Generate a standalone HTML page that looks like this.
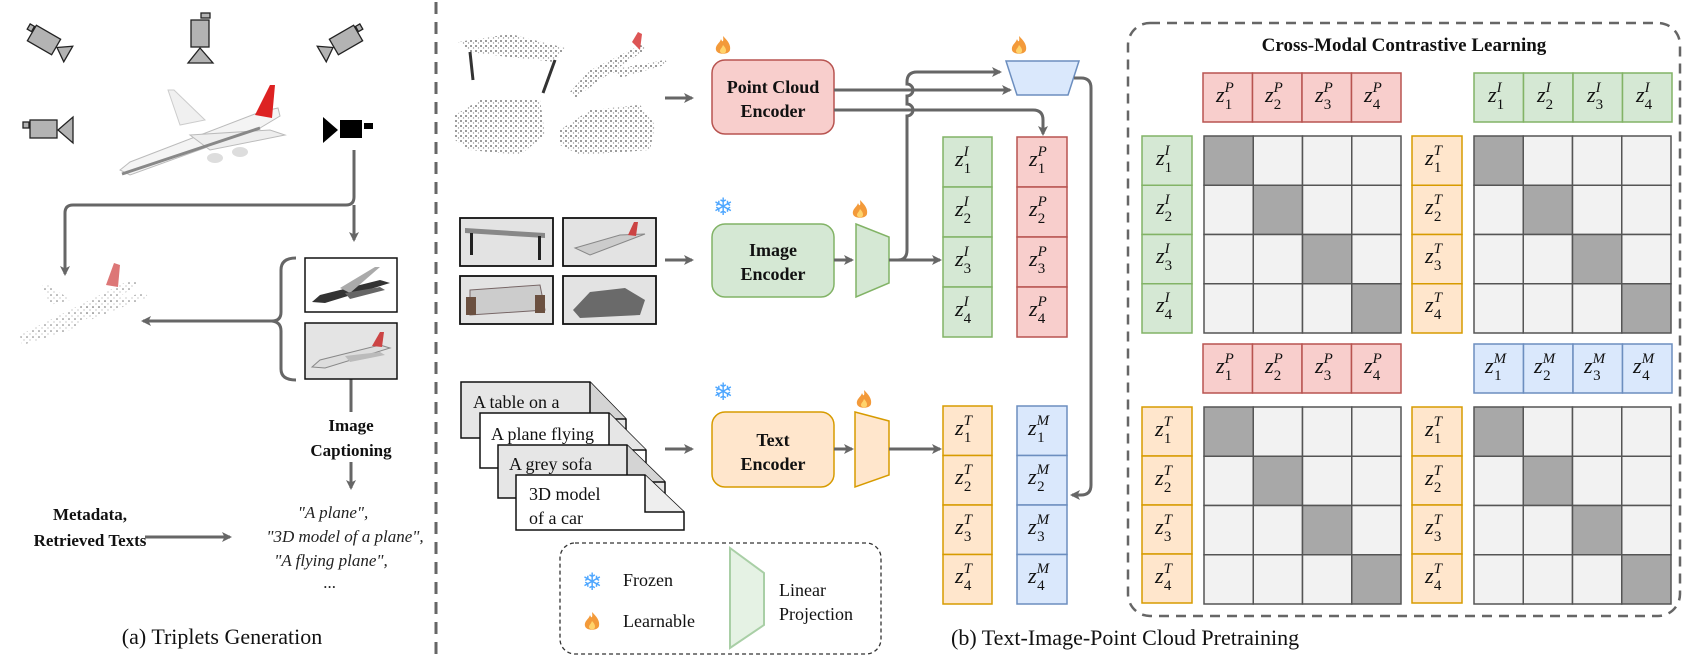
<!DOCTYPE html>
<html><head><meta charset="utf-8"><style>
html,body{margin:0;padding:0;background:#fff;}
svg{display:block;}
.s{font-family:"Liberation Serif",serif;}
.z{font-family:"Liberation Serif",serif;font-style:italic;font-size:22px;fill:#111;}
.b{font-family:"Liberation Serif",serif;font-weight:bold;fill:#111;}
</style></head><body>
<svg width="1689" height="661" viewBox="0 0 1689 661" xmlns="http://www.w3.org/2000/svg">
<defs>
<marker id="ah" markerWidth="10" markerHeight="10" refX="8" refY="5" orient="auto" markerUnits="userSpaceOnUse">
<path d="M0,0 L10,5 L0,10 L2.5,5 z" fill="#666"/></marker>
<pattern id="dots" width="5" height="5" patternUnits="userSpaceOnUse">
<circle cx="1" cy="1" r="0.9" fill="#555"/><circle cx="3.5" cy="3" r="0.7" fill="#999"/></pattern>
<pattern id="dots2" width="6" height="6" patternUnits="userSpaceOnUse">
<circle cx="1" cy="2" r="0.8" fill="#777"/><circle cx="4" cy="5" r="0.6" fill="#aaa"/></pattern>
<g id="flame"><path d="M0,-10 C5,-5 8,-1 7,4 C6,9 -6,9 -7,4 C-8,-1 -3,-3 -2,-7 C-1,-4 1,-3 0,-10z" fill="#f39a3a"/><path d="M0,-1 C3,2 4,5 2,7 C0,8 -3,7 -3,5 C-3,3 -1,2 0,-1z" fill="#ffd36b"/></g>
</defs>

<!-- ============ (a) left panel ============ -->
<!-- cameras -->
<g fill="#b3b3b3" stroke="#222" stroke-width="1.3">
 <g transform="translate(44,40) rotate(30)"><rect x="-14" y="-9" width="28" height="18"/><rect x="-20" y="-7" width="5" height="6"/><polygon points="15,0 28,-9 28,9"/></g>
 <rect x="201" y="13" width="9" height="5"/><rect x="191" y="20" width="18" height="27"/><polygon points="200,48 188,63 213,63"/>
 <g transform="translate(346,40) rotate(-30)"><rect x="-14" y="-9" width="28" height="18"/><rect x="15" y="-7" width="5" height="6"/><polygon points="-15,0 -28,-9 -28,9"/></g>
 <rect x="23" y="122" width="6" height="6"/><rect x="30" y="120" width="27" height="18"/><polygon points="58,130 73,117 73,143"/>
</g>
<g fill="#000"><polygon points="323,117 323,143 338,130"/><rect x="340" y="120" width="22" height="18"/><rect x="364" y="123" width="9" height="6"/></g>
<!-- airplane -->
<g transform="translate(200,130)">
 <polygon points="-80,40 -70,32 60,-18 78,-22 80,-14 60,-2 -70,45" fill="#f4f4f4" stroke="#bbb" stroke-width="1"/>
 <polygon points="-10,5 70,0 85,5 10,20" fill="#eee" stroke="#bbb"/>
 <polygon points="-20,-5 -32,-40 -26,-40 5,-10" fill="#f0f0f0" stroke="#ccc"/>
 <polygon points="55,-15 70,-45 75,-45 72,-12" fill="#d22"/>
 <ellipse cx="15" cy="28" rx="8" ry="5" fill="#ddd"/><ellipse cx="40" cy="22" rx="8" ry="5" fill="#ddd"/>
 <path d="M-78,44 L60,-2" stroke="#888" stroke-width="3"/>
</g>
<!-- connectors -->
<g stroke="#666" stroke-width="3" fill="none">
 <path d="M354,150 V197 Q354,205 346,205 H73 Q65,205 65,213 V274" marker-end="url(#ah)"/>
 <path d="M354,205 V240" marker-end="url(#ah)"/>
 <path d="M296,258 Q281,258 281,270 V312 Q281,321 272,321 Q281,322 281,331 V369 Q281,380 296,380"/>
 <path d="M272,321 H143" marker-end="url(#ah)"/>
 <path d="M351,379 V412"/>
 <path d="M351,462 V488" marker-end="url(#ah)"/>
 <path d="M145,537 H230" marker-end="url(#ah)"/>
</g>
<!-- point cloud plane -->
<g transform="translate(80,305)">
 <polygon points="-60,30 -40,20 50,-25 60,-22 -10,25 -58,40" fill="url(#dots2)"/>
 <polygon points="0,0 65,-12 68,-8 10,15" fill="url(#dots2)"/>
 <polygon points="-30,0 -38,-20 -30,-20 -10,-5" fill="url(#dots2)"/>
 <polygon points="26,-20 34,-42 40,-40 38,-18" fill="#d77"/>
</g>
<!-- rendered images -->
<rect x="305" y="258" width="92" height="54" fill="#fff" stroke="#111" stroke-width="1.5"/>
<g transform="translate(350,285)"><polygon points="-38,17 -30,10 30,-5 40,-2 -25,18" fill="#333"/><polygon points="-10,3 25,-18 30,-18 0,8" fill="#aaa"/><polygon points="-5,8 30,2 35,5 0,14" fill="#666"/></g>
<rect x="305" y="323" width="92" height="56" fill="#e4e4e4" stroke="#111" stroke-width="1.5"/>
<g transform="translate(350,350)"><polygon points="-38,17 -30,10 30,-5 40,-2 -25,18" fill="#ddd" stroke="#888"/><polygon points="22,-4 30,-18 34,-18 32,-3" fill="#c44"/><polygon points="-5,6 30,2 35,5 0,12" fill="#bbb"/></g>
<!-- texts -->
<text class="b" font-size="17" x="351" y="431" text-anchor="middle">Image</text>
<text class="b" font-size="17" x="351" y="456" text-anchor="middle">Captioning</text>
<text class="b" font-size="17" x="90" y="520" text-anchor="middle">Metadata,</text>
<text class="b" font-size="17" x="90" y="546" text-anchor="middle">Retrieved Texts</text>
<g class="s" font-style="italic" font-size="17" fill="#222" text-anchor="middle">
 <text x="333" y="518">"A plane",</text>
 <text x="345" y="542">"3D model of a plane",</text>
 <text x="331" y="566">"A flying plane",</text>
 <text x="330" y="588">...</text>
</g>
<text class="s" font-size="22" x="222" y="644" text-anchor="middle" fill="#111">(a) Triplets Generation</text>

<!-- separator -->
<line x1="436" y1="2" x2="436" y2="661" stroke="#666" stroke-width="3" stroke-dasharray="12 8"/>

<!-- ============ (b) ============ -->
<!-- point clouds -->
<g>
 <polygon points="458,42 510,34 565,48 555,62 500,56 470,52" fill="url(#dots)"/>
 <line x1="470" y1="52" x2="473" y2="80" stroke="#333" stroke-width="3"/><line x1="555" y1="60" x2="543" y2="93" stroke="#333" stroke-width="3"/>
 <polygon points="570,92 590,70 640,45 648,48 600,80 575,98" fill="url(#dots)"/>
 <polygon points="610,70 665,60 668,64 620,78" fill="url(#dots)"/>
 <polygon points="632,42 638,32 642,34 640,50" fill="#d55"/>
 <polygon points="455,115 480,100 540,100 545,135 520,155 470,150 455,140" fill="url(#dots)"/>
 <polygon points="560,130 590,110 640,105 655,125 650,150 580,155 560,145" fill="url(#dots)"/>
</g>
<!-- image thumbnails -->
<g stroke="#111" stroke-width="1.8" fill="#e3e3e3">
 <rect x="460" y="218" width="93" height="48"/><rect x="563" y="218" width="93" height="48"/>
 <rect x="460" y="276" width="93" height="48"/><rect x="563" y="276" width="93" height="48"/>
</g>
<polygon points="465,228 545,233 545,238 465,233" fill="#888"/><rect x="470" y="233" width="3" height="22" fill="#222"/><rect x="538" y="236" width="3" height="24" fill="#222"/>
<polygon points="575,248 620,235 645,234 590,255" fill="#ccc" stroke="#888"/><polygon points="628,235 634,222 638,222 636,236" fill="#c44"/>
<polygon points="470,290 540,285 545,310 470,315" fill="#ccc" stroke="#766"/><rect x="466" y="297" width="10" height="18" fill="#6b5040"/><rect x="535" y="295" width="10" height="18" fill="#6b5040"/>
<polygon points="573,310 590,292 625,288 645,300 640,315 580,318" fill="#6a6a6a"/>
<!-- text docs -->
<g stroke="#111" stroke-width="1.5">
 <path d="M461,382 H590 L626,419 V438 H461 Z" fill="#e6e6e6"/><path d="M590,382 V419 H626" fill="#d4d4d4"/>
 <path d="M480,413 H609 L646,450 V468 H480 Z" fill="#fff"/><path d="M609,413 V450 H646" fill="#e6e6e6"/>
 <path d="M498,445 H627 L665,482 V498 H498 Z" fill="#e6e6e6"/><path d="M627,445 V482 H665" fill="#d4d4d4"/>
 <path d="M516,475 H645 L684,512 V530 H516 Z" fill="#fff"/><path d="M645,475 V512 H684" fill="#eee"/>
</g>
<g class="s" font-size="18" fill="#111">
 <text x="473" y="408">A table on a</text>
 <text x="491" y="440">A plane flying</text>
 <text x="509" y="470">A grey sofa</text>
 <text x="529" y="500">3D model</text>
 <text x="529" y="524">of a car</text>
</g>
<!-- encoders -->
<rect x="712" y="60" width="122" height="74" rx="13" fill="#f8cecc" stroke="#b85450" stroke-width="1.5"/>
<text class="b" font-size="18" x="773" y="93" text-anchor="middle">Point Cloud</text>
<text class="b" font-size="18" x="773" y="117" text-anchor="middle">Encoder</text>
<rect x="712" y="224" width="122" height="73" rx="13" fill="#d5e8d4" stroke="#82b366" stroke-width="1.5"/>
<text class="b" font-size="18" x="773" y="256" text-anchor="middle">Image</text>
<text class="b" font-size="18" x="773" y="280" text-anchor="middle">Encoder</text>
<rect x="712" y="412" width="122" height="75" rx="13" fill="#ffe6cc" stroke="#d79b00" stroke-width="1.5"/>
<text class="b" font-size="18" x="773" y="446" text-anchor="middle">Text</text>
<text class="b" font-size="18" x="773" y="470" text-anchor="middle">Encoder</text>
<!-- trapezoids -->
<polygon points="856,224 889,237 889,283 856,297" fill="#d5e8d4" stroke="#82b366" stroke-width="1.5"/>
<polygon points="855,412 889,421 889,475 855,487" fill="#ffe6cc" stroke="#d79b00" stroke-width="1.5"/>
<polygon points="1006,61 1079,61 1068,95 1017,95" fill="#dae8fc" stroke="#6c8ebf" stroke-width="1.5"/>
<!-- icons -->
<use href="#flame" x="723" y="46"/><use href="#flame" x="860" y="210"/><use href="#flame" x="864" y="400"/><use href="#flame" x="1019" y="46"/>
<g font-family="DejaVu Sans,sans-serif" font-size="24" fill="#4da6ff" text-anchor="middle">
 <text x="723" y="215">❄</text><text x="723" y="400">❄</text><text x="592" y="590">❄</text>
</g>
<use href="#flame" x="592" y="622"/>
<!-- connectors b -->
<g stroke="#666" stroke-width="3" fill="none">
 <path d="M665,98 H692" marker-end="url(#ah)"/>
 <path d="M665,260 H692" marker-end="url(#ah)"/>
 <path d="M665,449 H692" marker-end="url(#ah)"/>
 <path d="M834,260 H852" marker-end="url(#ah)"/>
 <path d="M834,449 H852" marker-end="url(#ah)"/>
 <path d="M889,260 H940" marker-end="url(#ah)"/>
 <path d="M889,449 H940" marker-end="url(#ah)"/>
 <path d="M898,260 Q907,260 907,250 V116 A5,5 0 0 0 907,104 V96 A5,5 0 0 0 907,84 V82 Q907,72 917,72 H1000" marker-end="url(#ah)"/>
 <path d="M834,90 H1010" marker-end="url(#ah)"/>
 <path d="M834,110 H1033 Q1043,110 1043,120 V134" marker-end="url(#ah)"/>
 <path d="M1074,78 H1081 Q1091,78 1091,88 V485 Q1091,495 1081,495 H1072" marker-end="url(#ah)"/>
</g>
<!-- legend -->
<rect x="560" y="543" width="321" height="111" rx="15" fill="none" stroke="#333" stroke-width="1.3" stroke-dasharray="4 3"/>
<text class="s" font-size="18" x="623" y="586" fill="#111">Frozen</text>
<text class="s" font-size="18" x="623" y="627" fill="#111">Learnable</text>
<polygon points="730,548 764,573 764,625 730,648" fill="#e5f2e4" stroke="#a9cfa6" stroke-width="2"/>
<text class="s" font-size="18" x="779" y="596" fill="#111">Linear</text>
<text class="s" font-size="18" x="779" y="620" fill="#111">Projection</text>
<text class="s" font-size="22" x="951" y="645" fill="#111">(b) Text-Image-Point Cloud Pretraining</text>

<!-- central columns -->
<g stroke-width="1.5">
 <g fill="#d5e8d4" stroke="#82b366"><rect x="943" y="137" width="49" height="50"/><rect x="943" y="187" width="49" height="50"/><rect x="943" y="237" width="49" height="50"/><rect x="943" y="287" width="49" height="50"/></g>
 <g fill="#f8cecc" stroke="#b85450"><rect x="1017" y="137" width="50" height="50"/><rect x="1017" y="187" width="50" height="50"/><rect x="1017" y="237" width="50" height="50"/><rect x="1017" y="287" width="50" height="50"/></g>
 <g fill="#ffe6cc" stroke="#d79b00"><rect x="943" y="406" width="49" height="49.5"/><rect x="943" y="455.5" width="49" height="49.5"/><rect x="943" y="505" width="49" height="49.5"/><rect x="943" y="554.5" width="49" height="49.5"/></g>
 <g fill="#dae8fc" stroke="#6c8ebf"><rect x="1017" y="406" width="50" height="49.5"/><rect x="1017" y="455.5" width="50" height="49.5"/><rect x="1017" y="505" width="50" height="49.5"/><rect x="1017" y="554.5" width="50" height="49.5"/></g>
</g>
<g class="z">
 <text x="955" y="166">z<tspan dy="-10" font-size="15">I</tspan><tspan dx="-5" dy="17" font-size="15" font-style="normal">1</tspan></text>
 <text x="955" y="216">z<tspan dy="-10" font-size="15">I</tspan><tspan dx="-5" dy="17" font-size="15" font-style="normal">2</tspan></text>
 <text x="955" y="266">z<tspan dy="-10" font-size="15">I</tspan><tspan dx="-5" dy="17" font-size="15" font-style="normal">3</tspan></text>
 <text x="955" y="316">z<tspan dy="-10" font-size="15">I</tspan><tspan dx="-5" dy="17" font-size="15" font-style="normal">4</tspan></text>
 <text x="1029" y="166">z<tspan dy="-10" font-size="15">P</tspan><tspan dx="-9" dy="17" font-size="15" font-style="normal">1</tspan></text>
 <text x="1029" y="216">z<tspan dy="-10" font-size="15">P</tspan><tspan dx="-9" dy="17" font-size="15" font-style="normal">2</tspan></text>
 <text x="1029" y="266">z<tspan dy="-10" font-size="15">P</tspan><tspan dx="-9" dy="17" font-size="15" font-style="normal">3</tspan></text>
 <text x="1029" y="316">z<tspan dy="-10" font-size="15">P</tspan><tspan dx="-9" dy="17" font-size="15" font-style="normal">4</tspan></text>
 <text x="955" y="435">z<tspan dy="-10" font-size="15">T</tspan><tspan dx="-8" dy="17" font-size="15" font-style="normal">1</tspan></text>
 <text x="955" y="484">z<tspan dy="-10" font-size="15">T</tspan><tspan dx="-8" dy="17" font-size="15" font-style="normal">2</tspan></text>
 <text x="955" y="534">z<tspan dy="-10" font-size="15">T</tspan><tspan dx="-8" dy="17" font-size="15" font-style="normal">3</tspan></text>
 <text x="955" y="583">z<tspan dy="-10" font-size="15">T</tspan><tspan dx="-8" dy="17" font-size="15" font-style="normal">4</tspan></text>
 <text x="1028" y="435">z<tspan dy="-10" font-size="15">M</tspan><tspan dx="-12" dy="17" font-size="15" font-style="normal">1</tspan></text>
 <text x="1028" y="484">z<tspan dy="-10" font-size="15">M</tspan><tspan dx="-12" dy="17" font-size="15" font-style="normal">2</tspan></text>
 <text x="1028" y="534">z<tspan dy="-10" font-size="15">M</tspan><tspan dx="-12" dy="17" font-size="15" font-style="normal">3</tspan></text>
 <text x="1028" y="583">z<tspan dy="-10" font-size="15">M</tspan><tspan dx="-12" dy="17" font-size="15" font-style="normal">4</tspan></text>
</g>

<!-- ============ contrastive box ============ -->
<rect x="1128" y="23" width="552" height="593" rx="22" fill="none" stroke="#666" stroke-width="2.5" stroke-dasharray="10 7"/>
<text class="b" font-size="19" x="1404" y="51" text-anchor="middle">Cross-Modal Contrastive Learning</text>

<!-- headers -->
<g stroke-width="1.5">
 <g fill="#f8cecc" stroke="#b85450"><rect x="1203" y="73" width="49.5" height="49"/><rect x="1252.5" y="73" width="49.5" height="49"/><rect x="1302" y="73" width="49.5" height="49"/><rect x="1351.5" y="73" width="49.5" height="49"/>
 <rect x="1203" y="344" width="49.5" height="49"/><rect x="1252.5" y="344" width="49.5" height="49"/><rect x="1302" y="344" width="49.5" height="49"/><rect x="1351.5" y="344" width="49.5" height="49"/></g>
 <g fill="#d5e8d4" stroke="#82b366"><rect x="1474" y="73" width="49.5" height="49"/><rect x="1523.5" y="73" width="49.5" height="49"/><rect x="1573" y="73" width="49.5" height="49"/><rect x="1622.5" y="73" width="49.5" height="49"/>
 <rect x="1142" y="136" width="50" height="49.25"/><rect x="1142" y="185.25" width="50" height="49.25"/><rect x="1142" y="234.5" width="50" height="49.25"/><rect x="1142" y="283.75" width="50" height="49.25"/></g>
 <g fill="#dae8fc" stroke="#6c8ebf"><rect x="1474" y="344" width="49.5" height="49"/><rect x="1523.5" y="344" width="49.5" height="49"/><rect x="1573" y="344" width="49.5" height="49"/><rect x="1622.5" y="344" width="49.5" height="49"/></g>
 <g fill="#ffe6cc" stroke="#d79b00">
 <rect x="1412" y="136" width="50" height="49.25"/><rect x="1412" y="185.25" width="50" height="49.25"/><rect x="1412" y="234.5" width="50" height="49.25"/><rect x="1412" y="283.75" width="50" height="49.25"/>
 <rect x="1142" y="407" width="50" height="49"/><rect x="1142" y="456" width="50" height="49"/><rect x="1142" y="505" width="50" height="49"/><rect x="1142" y="554" width="50" height="49"/>
 <rect x="1412" y="407" width="50" height="49"/><rect x="1412" y="456" width="50" height="49"/><rect x="1412" y="505" width="50" height="49"/><rect x="1412" y="554" width="50" height="49"/></g>
</g>

<!-- matrices -->
<g stroke="#555" stroke-width="1.5" fill="#f2f2f2">
 <g id="m1">
 <rect x="1204" y="136" width="49.25" height="49.25" fill="#a8a8a8"/><rect x="1253.25" y="136" width="49.25" height="49.25"/><rect x="1302.5" y="136" width="49.25" height="49.25"/><rect x="1351.75" y="136" width="49.25" height="49.25"/>
 <rect x="1204" y="185.25" width="49.25" height="49.25"/><rect x="1253.25" y="185.25" width="49.25" height="49.25" fill="#a8a8a8"/><rect x="1302.5" y="185.25" width="49.25" height="49.25"/><rect x="1351.75" y="185.25" width="49.25" height="49.25"/>
 <rect x="1204" y="234.5" width="49.25" height="49.25"/><rect x="1253.25" y="234.5" width="49.25" height="49.25"/><rect x="1302.5" y="234.5" width="49.25" height="49.25" fill="#a8a8a8"/><rect x="1351.75" y="234.5" width="49.25" height="49.25"/>
 <rect x="1204" y="283.75" width="49.25" height="49.25"/><rect x="1253.25" y="283.75" width="49.25" height="49.25"/><rect x="1302.5" y="283.75" width="49.25" height="49.25"/><rect x="1351.75" y="283.75" width="49.25" height="49.25" fill="#a8a8a8"/>
 </g>
 <use href="#m1" x="270" y="0"/>
 <use href="#m1" x="0" y="271"/>
 <use href="#m1" x="270" y="271"/>
</g>

<!-- matrix labels -->
<g class="z">
 <!-- top header P -->
 <text x="1216" y="102">z<tspan dy="-10" font-size="15">P</tspan><tspan dx="-9" dy="17" font-size="15" font-style="normal">1</tspan></text>
 <text x="1265" y="102">z<tspan dy="-10" font-size="15">P</tspan><tspan dx="-9" dy="17" font-size="15" font-style="normal">2</tspan></text>
 <text x="1315" y="102">z<tspan dy="-10" font-size="15">P</tspan><tspan dx="-9" dy="17" font-size="15" font-style="normal">3</tspan></text>
 <text x="1364" y="102">z<tspan dy="-10" font-size="15">P</tspan><tspan dx="-9" dy="17" font-size="15" font-style="normal">4</tspan></text>
 <!-- top header I -->
 <text x="1488" y="102">z<tspan dy="-10" font-size="15">I</tspan><tspan dx="-5" dy="17" font-size="15" font-style="normal">1</tspan></text>
 <text x="1537" y="102">z<tspan dy="-10" font-size="15">I</tspan><tspan dx="-5" dy="17" font-size="15" font-style="normal">2</tspan></text>
 <text x="1587" y="102">z<tspan dy="-10" font-size="15">I</tspan><tspan dx="-5" dy="17" font-size="15" font-style="normal">3</tspan></text>
 <text x="1636" y="102">z<tspan dy="-10" font-size="15">I</tspan><tspan dx="-5" dy="17" font-size="15" font-style="normal">4</tspan></text>
 <!-- left I -->
 <text x="1156" y="165">z<tspan dy="-10" font-size="15">I</tspan><tspan dx="-5" dy="17" font-size="15" font-style="normal">1</tspan></text>
 <text x="1156" y="214">z<tspan dy="-10" font-size="15">I</tspan><tspan dx="-5" dy="17" font-size="15" font-style="normal">2</tspan></text>
 <text x="1156" y="263">z<tspan dy="-10" font-size="15">I</tspan><tspan dx="-5" dy="17" font-size="15" font-style="normal">3</tspan></text>
 <text x="1156" y="312">z<tspan dy="-10" font-size="15">I</tspan><tspan dx="-5" dy="17" font-size="15" font-style="normal">4</tspan></text>
 <!-- mid T top -->
 <text x="1425" y="165">z<tspan dy="-10" font-size="15">T</tspan><tspan dx="-8" dy="17" font-size="15" font-style="normal">1</tspan></text>
 <text x="1425" y="214">z<tspan dy="-10" font-size="15">T</tspan><tspan dx="-8" dy="17" font-size="15" font-style="normal">2</tspan></text>
 <text x="1425" y="263">z<tspan dy="-10" font-size="15">T</tspan><tspan dx="-8" dy="17" font-size="15" font-style="normal">3</tspan></text>
 <text x="1425" y="312">z<tspan dy="-10" font-size="15">T</tspan><tspan dx="-8" dy="17" font-size="15" font-style="normal">4</tspan></text>
 <!-- bottom header P -->
 <text x="1216" y="373">z<tspan dy="-10" font-size="15">P</tspan><tspan dx="-9" dy="17" font-size="15" font-style="normal">1</tspan></text>
 <text x="1265" y="373">z<tspan dy="-10" font-size="15">P</tspan><tspan dx="-9" dy="17" font-size="15" font-style="normal">2</tspan></text>
 <text x="1315" y="373">z<tspan dy="-10" font-size="15">P</tspan><tspan dx="-9" dy="17" font-size="15" font-style="normal">3</tspan></text>
 <text x="1364" y="373">z<tspan dy="-10" font-size="15">P</tspan><tspan dx="-9" dy="17" font-size="15" font-style="normal">4</tspan></text>
 <!-- bottom header M -->
 <text x="1485" y="373">z<tspan dy="-10" font-size="15">M</tspan><tspan dx="-12" dy="17" font-size="15" font-style="normal">1</tspan></text>
 <text x="1534" y="373">z<tspan dy="-10" font-size="15">M</tspan><tspan dx="-12" dy="17" font-size="15" font-style="normal">2</tspan></text>
 <text x="1584" y="373">z<tspan dy="-10" font-size="15">M</tspan><tspan dx="-12" dy="17" font-size="15" font-style="normal">3</tspan></text>
 <text x="1633" y="373">z<tspan dy="-10" font-size="15">M</tspan><tspan dx="-12" dy="17" font-size="15" font-style="normal">4</tspan></text>
 <!-- bottom left T -->
 <text x="1155" y="436">z<tspan dy="-10" font-size="15">T</tspan><tspan dx="-8" dy="17" font-size="15" font-style="normal">1</tspan></text>
 <text x="1155" y="485">z<tspan dy="-10" font-size="15">T</tspan><tspan dx="-8" dy="17" font-size="15" font-style="normal">2</tspan></text>
 <text x="1155" y="534">z<tspan dy="-10" font-size="15">T</tspan><tspan dx="-8" dy="17" font-size="15" font-style="normal">3</tspan></text>
 <text x="1155" y="583">z<tspan dy="-10" font-size="15">T</tspan><tspan dx="-8" dy="17" font-size="15" font-style="normal">4</tspan></text>
 <!-- bottom mid T -->
 <text x="1425" y="436">z<tspan dy="-10" font-size="15">T</tspan><tspan dx="-8" dy="17" font-size="15" font-style="normal">1</tspan></text>
 <text x="1425" y="485">z<tspan dy="-10" font-size="15">T</tspan><tspan dx="-8" dy="17" font-size="15" font-style="normal">2</tspan></text>
 <text x="1425" y="534">z<tspan dy="-10" font-size="15">T</tspan><tspan dx="-8" dy="17" font-size="15" font-style="normal">3</tspan></text>
 <text x="1425" y="583">z<tspan dy="-10" font-size="15">T</tspan><tspan dx="-8" dy="17" font-size="15" font-style="normal">4</tspan></text>
</g>
</svg>
</body></html>
